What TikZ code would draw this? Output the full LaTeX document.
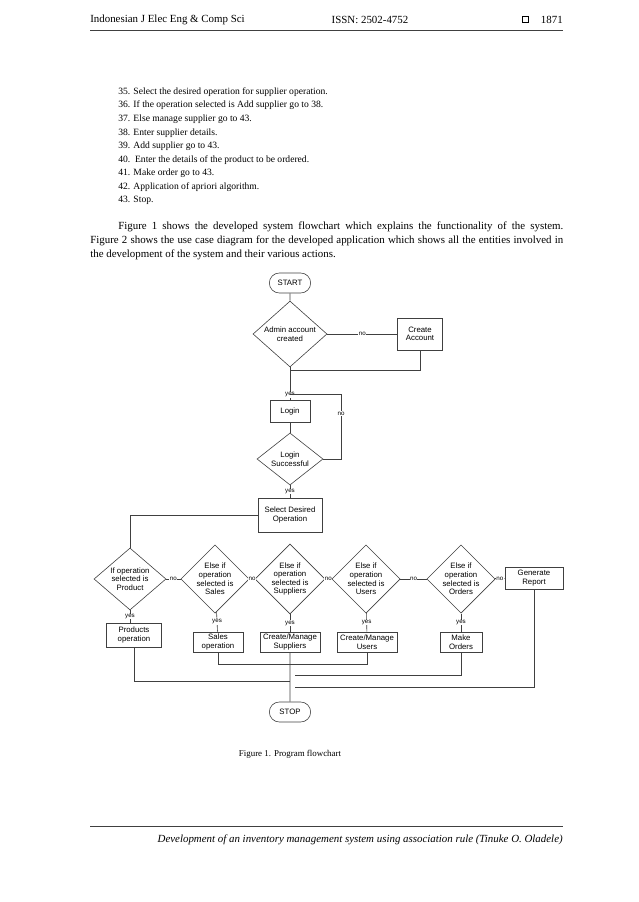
\documentclass[tikz,border=0pt]{standalone}
\usepackage{fontspec}
\setmainfont{Liberation Serif}
\newfontfamily\chartfont{Liberation Sans}
\usetikzlibrary{positioning,shapes.geometric,shapes.misc}
\tikzset{
  dec/.style={draw,diamond,inner sep=0pt,align=center,font=\chartfont\fontsize{7.8}{8.6}\selectfont},
  proc/.style={draw,rectangle,inner sep=1pt,align=center,font=\chartfont\fontsize{7.8}{8.6}\selectfont},
  term/.style={draw,rounded rectangle,minimum width=48pt,minimum height=20pt,font=\chartfont\fontsize{7.8}{8.6}\selectfont},
  lbl/.style={fill=white,inner sep=0.5pt,font=\chartfont\fontsize{6.2}{6.5}\selectfont},
  body/.style={anchor=west,inner sep=0pt,font=\fontsize{9.6}{13.8}\selectfont},
  page/.style={body,font=\fontsize{10.9}{13.8}\selectfont}
}
\newcommand{\newDec}[5]{\node[dec,minimum width=#4pt,minimum height=#5pt](#1) at #3 {#2};}
\newcommand{\newProc}[5]{\node[proc,minimum width=#4pt,minimum height=#5pt](#1) at #3 {#2};}
\begin{document}
\begin{tikzpicture}[x=1pt,y=-1pt,line width=0.6pt,draw=black!75]
  \useasboundingbox (0,0) rectangle (638,902);
  % page header
  \node[page] (hdl) at (90,20) {Indonesian J Elec Eng \& Comp Sci};
  \node[page,anchor=center] (hdc) at (370,20) {ISSN: 2502-4752};
  \node[page,anchor=east] (hdr) at (563,20) {1871};
  \node[draw=black,line width=0.7pt,minimum size=6pt,inner sep=0pt] (hbox) at (525,19) {};
  \draw[line width=0.5pt] (90,30) -- (563,30);
  % numbered steps
  \foreach \t [count=\i from 0] in {35. Select the desired operation for supplier operation.,
      36. If the operation selected is Add supplier go to 38.,
      37. Else manage supplier go to 43.,
      38. Enter supplier details.,
      39. Add supplier go to 43.,
      {40.\ \ Enter the details of the product to be ordered.},
      41. Make order go to 43.,
      42. Application of apriori algorithm.,
      43. Stop.}
    \node[body] (st\i) at (118,92+13.6*\i) {\t};
  \node[page,anchor=north west,text width=473pt,align=justify] (para) at (90,222)
    {\hspace*{28pt}Figure 1 shows the developed system flowchart which explains the functionality of the system.\linebreak
     Figure 2 shows the use case diagram for the developed application which shows all the entities involved in\linebreak
     the development of the system and their various actions.};
  % flowchart
  \node[term] (start) at (290,283) {START};
  \newDec{admin}{Admin account\\created}{(290,334)}{74}{50}
  \newProc{create}{Create\\Account}{(420,334)}{45}{32}
  \newProc{login}{Login}{(290,411)}{40}{22}
  \newDec{lsucc}{Login\\Successful}{(290,459)}{66}{38}
  \newProc{select}{Select Desired\\Operation}{(290,515)}{64}{34}
  \newDec{dprod}{If operation\\selected is\\Product}{(130,579)}{72}{57}
  \newDec{dsale}{Else if\\operation\\selected is\\Sales}{(215,579)}{56}{62}
  \newDec{dsupp}{Else if\\operation\\selected is\\Suppliers}{(290,579)}{60}{62}
  \newDec{duser}{Else if\\operation\\selected is\\Users}{(366,579)}{61}{60}
  \newDec{dord}{Else if\\operation\\selected is\\Orders}{(461,579)}{62}{60}
  \newProc{report}{Generate\\Report}{(534,578)}{58}{22}
  \newProc{pprod}{Products\\operation}{(134,635)}{55}{24}
  \newProc{psale}{Sales\\operation}{(218,642)}{50}{20}
  \newProc{psupp}{Create/Manage\\Suppliers}{(290,642)}{60}{20}
  \newProc{puser}{Create/Manage\\Users}{(367,642)}{60}{20}
  \newProc{pord}{Make\\Orders}{(461,642)}{42}{20}
  \node[term] (stop) at (290,712) {STOP};
  \coordinate (j1) at (290,370);
  \coordinate (j2) at (290,394);
  % connectors
  \draw (start) -- (admin);
  \draw (admin) -- node[lbl]{no} (create);
  \draw (create.south) |- (j1);
  \draw (admin.south) -- node[lbl,pos=0.85]{yes} (login);
  \draw (login) -- (lsucc);
  \draw (lsucc.east) -| node[lbl,pos=0.85]{no} (341,394) -- (j2);
  \draw (lsucc) -- node[lbl]{yes} (select);
  \draw (select.west) -| (dprod.north);
  \draw (dprod) -- node[lbl]{no} (dsale);
  \draw (dsale) -- node[lbl]{no} (dsupp);
  \draw (dsupp) -- node[lbl]{no} (duser);
  \draw (duser) -- node[lbl]{no} (dord);
  \draw (dord) -- node[lbl]{no} (report);
  \draw (dprod) -- node[lbl]{yes} (pprod.north -| dprod);
  \draw (dsale) -- node[lbl]{yes} (psale);
  \draw (dsupp) -- node[lbl]{yes} (psupp);
  \draw (duser) -- node[lbl]{yes} (puser);
  \draw (dord) -- node[lbl]{yes} (pord);
  \draw (psale.south) -- ++(0,12) -| (puser.south);
  \draw (psupp) -- (stop);
  \draw (pord.south) |- (295,675);
  \draw (pprod.south) |- (290,681);
  \draw (report.south) |- (295,687);
  % caption and footer
  \node[body,anchor=center,font=\fontsize{8.9}{10}\selectfont] (cap) at (290,754) {Figure 1. Program flowchart};
  \draw[line width=0.5pt] (90,826) -- (563,826);
  \node[body,anchor=east,font=\fontsize{10.9}{13}\selectfont] (foot) at (563,840) {\itshape Development of an inventory management system using association rule (Tinuke O. Oladele)};
\end{tikzpicture}
\end{document}
